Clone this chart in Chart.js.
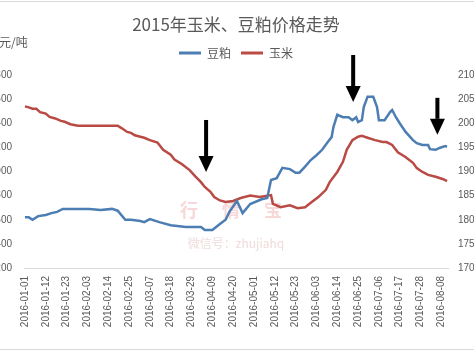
<!DOCTYPE html>
<html>
<head>
<meta charset="utf-8">
<script src="https://cdn.jsdelivr.net/npm/chart.js@4.4.0/dist/chart.umd.min.js"></script>
<style>
  html, body { margin: 0; padding: 0; background: #fff; overflow: hidden; }
  /* le graphique déborde un peu à gauche et à droite, comme la capture d'origine */
  #wrap { position: absolute; left: -30px; top: 0; width: 532px; height: 355px; }
</style>
</head>
<body>
<div id="wrap"><canvas id="priceChart" width="532" height="355"></canvas></div>
<script>
// Dates affichées sur l'axe (une tous les 11 jours)
const dateLabels = ['2016-01-01', '2016-01-12', '2016-01-23', '2016-02-03', '2016-02-14', '2016-02-25',
    '2016-03-07', '2016-03-18', '2016-03-29', '2016-04-09', '2016-04-20', '2016-05-01', '2016-05-12',
    '2016-05-23', '2016-06-03', '2016-06-14', '2016-06-25', '2016-07-06', '2016-07-17', '2016-07-28', '2016-08-08'];
const tickStep = 11;

// 豆粕 (axe gauche) : jour depuis le 1er janvier, prix
const mealDays = [0, 2, 4, 7, 11, 14, 17, 20, 24, 34, 40, 46, 49, 53, 56, 61, 63, 66, 71, 77, 85, 93, 95, 99, 103,
    106, 108, 112, 115, 119, 125, 128, 130, 133, 136, 140, 143, 145, 148, 151, 154, 157, 160, 162, 163, 165, 168,
    171, 173, 175, 176, 178, 179, 181, 184, 186, 187, 190, 193, 194, 196, 198, 201, 205, 207, 210, 213, 214, 217,
    219, 222, 223];
const mealPrices = [2620, 2620, 2600, 2630, 2640, 2655, 2665, 2690, 2690, 2690, 2680, 2690, 2675, 2600, 2600, 2590,
    2580, 2605, 2580, 2555, 2540, 2540, 2515, 2515, 2565, 2600, 2665, 2755, 2655, 2730, 2770, 2780, 2930, 2945,
    3030, 3020, 2990, 2990, 3040, 3095, 3135, 3180, 3245, 3285, 3370, 3470, 3450, 3450, 3425, 3450, 3410, 3425,
    3535, 3620, 3620, 3535, 3425, 3425, 3495, 3510, 3450, 3400, 3330, 3260, 3235, 3220, 3220, 3185, 3180, 3195,
    3210, 3205];

// 玉米 (axe droit)
const cornDays = [0, 2, 4, 6, 8, 11, 13, 16, 19, 21, 24, 28, 49, 51, 54, 56, 58, 63, 66, 70, 73, 77, 79, 83, 87, 90,
    93, 95, 98, 100, 103, 106, 110, 114, 119, 124, 130, 131, 135, 140, 144, 148, 151, 155, 159, 161, 165, 168, 170,
    173, 176, 178, 181, 185, 189, 191, 194, 197, 201, 205, 207, 210, 213, 217, 221, 223];
const cornPrices = [2035, 2033, 2030, 2030, 2023, 2020, 2013, 2010, 2005, 2003, 1998, 1995, 1995, 1990, 1982, 1980,
    1975, 1970, 1965, 1960, 1945, 1935, 1925, 1915, 1903, 1890, 1878, 1868, 1858, 1847, 1840, 1837, 1839, 1845,
    1850, 1847, 1851, 1833, 1826, 1830, 1824, 1826, 1835, 1847, 1862, 1878, 1899, 1920, 1945, 1965, 1972, 1974,
    1970, 1965, 1961, 1961, 1955, 1940, 1930, 1918, 1907, 1899, 1893, 1889, 1884, 1880];

// Flèches noires (jour, prix pointé sur l'axe droit)
const arrowDays = [95.7, 173.4, 217.9];
const arrowValues = [1899, 2044, 1976];
const arrowLengths = [52, 47, 37];

const textColor = '#595959';
const numFont = '"Liberation Sans", "Noto Sans CJK SC", sans-serif';
const cjkFont = '"Noto Sans CJK SC", sans-serif';

const tickDays = dateLabels.map((_, i) => i * tickStep);

const decor = {
    id: 'decor',
    beforeDatasetsDraw(chart) {
        const ctx = chart.ctx;
        ctx.save();
        // filigrane
        ctx.textAlign = 'center';
        ctx.textBaseline = 'middle';
        ctx.font = 'bold 18px ' + cjkFont;
        ctx.fillStyle = 'rgba(225, 110, 110, 0.28)';
        ['行', '情', '宝'].forEach((ch, i) => ctx.fillText(ch, 219 + i * 42, 210));
        ctx.font = '12px ' + cjkFont;
        ctx.fillStyle = 'rgba(210, 150, 150, 0.35)';
        ctx.fillText('微信号：zhujiahq', 266, 243);
        ctx.restore();
    },
    afterDatasetsDraw(chart) {
        const ctx = chart.ctx;
        const xs = chart.scales.x;
        const ys = chart.scales.y1;
        ctx.save();
        ctx.fillStyle = '#000';
        arrowDays.forEach((d, i) => {
            const x = xs.getPixelForValue(d);
            const tip = ys.getPixelForValue(arrowValues[i]);
            const headTop = tip - 16;
            ctx.fillRect(x - 2, tip - arrowLengths[i], 4, arrowLengths[i] - 16);
            ctx.beginPath();
            ctx.moveTo(x - 7.5, headTop);
            ctx.lineTo(x + 7.5, headTop);
            ctx.lineTo(x, tip);
            ctx.closePath();
            ctx.fill();
        });
        ctx.restore();
    },
    afterDraw(chart) {
        const ctx = chart.ctx;
        ctx.save();
        // unité de l'axe gauche
        ctx.font = '12px ' + cjkFont;
        ctx.fillStyle = textColor;
        ctx.textBaseline = 'middle';
        ctx.fillText('元/吨', 29, 42);
        // cadre gris haut / bas
        ctx.strokeStyle = '#d9d9d9';
        ctx.lineWidth = 1;
        ctx.beginPath();
        ctx.moveTo(0, 1.5); ctx.lineTo(chart.width, 1.5);
        ctx.moveTo(0, 349.5); ctx.lineTo(chart.width, 349.5);
        ctx.stroke();
        ctx.restore();
    }
};

const ctx = document.getElementById('priceChart').getContext('2d');
new Chart(ctx, {
    type: 'line',
    data: {
        datasets: [{
            label: '豆粕',
            data: mealDays.map((d, i) => ({ x: d, y: mealPrices[i] })),
            yAxisID: 'y',
            borderColor: '#4C7DB3',
            backgroundColor: '#4C7DB3',
            borderWidth: 2.5,
            pointRadius: 0,
            tension: 0
        }, {
            label: '玉米',
            data: cornDays.map((d, i) => ({ x: d, y: cornPrices[i] })),
            yAxisID: 'y1',
            borderColor: '#B94A44',
            backgroundColor: '#B94A44',
            borderWidth: 2.5,
            pointRadius: 0,
            tension: 0
        }]
    },
    options: {
        responsive: false,
        devicePixelRatio: 1,
        animation: false,
        layout: { padding: 0 },
        plugins: {
            title: {
                display: true,
                text: '2015年玉米、豆粕价格走势',
                color: textColor,
                font: { family: cjkFont, size: 17, weight: 'normal' },
                padding: { top: 14.8, bottom: 1.8 }
            },
            // espace vide entre la légende et la zone du graphique
            subtitle: {
                display: true,
                text: '',
                weight: 900,
                font: { size: 5 },
                padding: 0
            },
            legend: {
                display: true,
                labels: {
                    boxWidth: 22,
                    boxHeight: 3,
                    padding: 10,
                    color: textColor,
                    font: { family: cjkFont, size: 12 },
                    generateLabels: chart => chart.data.datasets.map((ds, i) => ({
                        text: ds.label,
                        fillStyle: ds.borderColor,
                        strokeStyle: ds.borderColor,
                        lineWidth: 0,
                        fontColor: textColor,
                        datasetIndex: i
                    }))
                }
            },
            tooltip: { enabled: false }
        },
        scales: {
            x: {
                type: 'linear',
                min: -0.5,
                max: 223.5,
                grid: { display: false, drawTicks: false },
                border: { display: true, color: '#d9d9d9' },
                afterBuildTicks: scale => { scale.ticks = tickDays.map(v => ({ value: v })); },
                afterFit: scale => { scale.height = 87; },
                ticks: {
                    autoSkip: false,
                    minRotation: 90,
                    maxRotation: 90,
                    padding: 8,
                    color: textColor,
                    font: { family: numFont, size: 10 },
                    callback: value => dateLabels[tickDays.indexOf(value)]
                }
            },
            y: {
                position: 'left',
                min: 2200,
                max: 3800,
                grid: { display: false, drawTicks: false },
                border: { display: false },
                afterFit: scale => { scale.width = 54; },
                ticks: {
                    stepSize: 200,
                    padding: 12,
                    color: textColor,
                    font: { family: numFont, size: 10 },
                    callback: v => String(v)
                }
            },
            y1: {
                position: 'right',
                min: 1700,
                max: 2100,
                grid: { display: false, drawTicks: false },
                border: { display: false },
                afterFit: scale => { scale.width = 54; },
                ticks: {
                    stepSize: 50,
                    padding: 10,
                    color: textColor,
                    font: { family: numFont, size: 10 },
                    callback: v => String(v)
                }
            }
        }
    },
    plugins: [decor]
});
</script>
</body>
</html>
